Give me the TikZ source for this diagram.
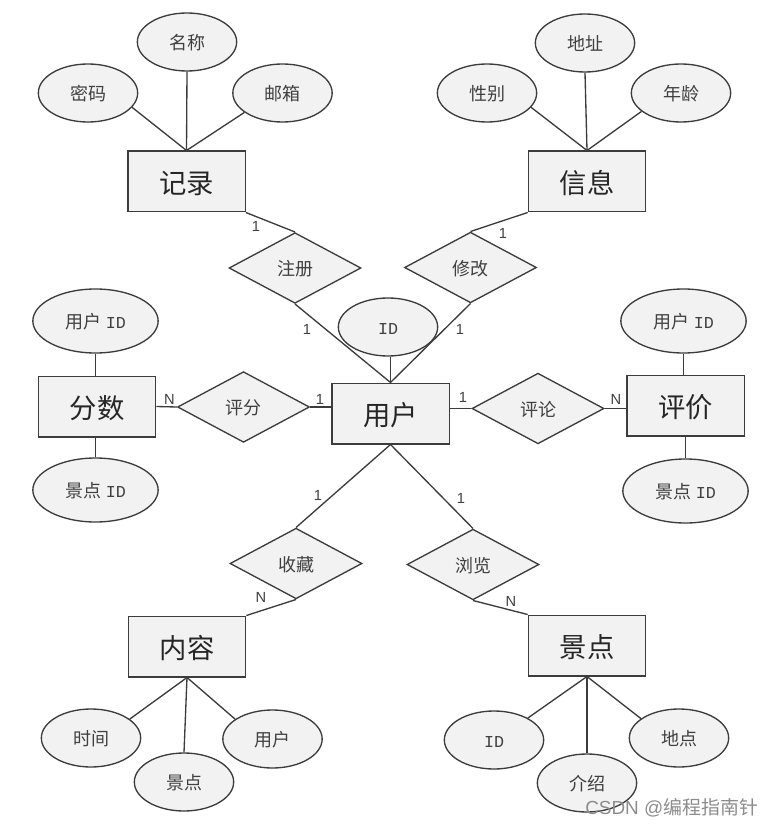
\documentclass[tikz,border=0pt]{standalone}
\usepackage{fontspec}
\setmainfont{Liberation Sans}
\newfontfamily\cjk{Noto Sans CJK SC}
\newfontfamily\idmono{Liberation Mono}
\usetikzlibrary{shapes.geometric}
\definecolor{erline}{HTML}{3C3C3C}
\definecolor{erfill}{HTML}{F2F2F2}
\definecolor{ertext}{HTML}{404040}
\tikzset{
  erbase/.style={draw=erline,fill=erfill,line width=1pt,inner sep=0pt,text=ertext},
  ent/.style={erbase,rectangle,minimum width=88pt,minimum height=45.5pt,text height=20pt,text depth=1.4pt,font=\cjk\fontsize{20.5}{22}\selectfont,text=black!85},
  attrs/.style={erbase,ellipse,minimum width=74.5pt,minimum height=43.5pt,text height=13pt,text depth=1.3pt,font=\cjk\fontsize{13.5}{15}\selectfont},
  attrw/.style={attrs,minimum width=94pt,minimum height=48pt},
  rel/.style={erbase,diamond,minimum width=99pt,minimum height=53pt,text height=13pt,text depth=1.3pt,font=\cjk\fontsize{13.5}{15}\selectfont},
  conn/.style={draw=erline,line width=1pt},
  card/.style={font=\fontsize{11}{12}\selectfont,text=ertext,inner sep=0pt},
}
\newcommand{\idt}{{\idmono\fontsize{12.5}{14}\selectfont ID}}
\begin{document}
\begin{tikzpicture}[x=0.75pt,y=-0.75pt]
\useasboundingbox (0,0) rectangle (772,827);
% entities
\node[ent] (jilu) at (186.5,181.5) {记录};
\node[ent] (xinxi) at (587,181.5) {信息};
\node[ent] (yonghu) at (390.5,413.5) {用户};
\node[ent] (fenshu) at (97,406.5) {分数};
\node[ent] (pingjia) at (685.5,405.5) {评价};
\node[ent] (neirong) at (187,646.5) {内容};
\node[ent] (jingdian) at (587,645.5) {景点};
% relationships
\node[rel] (zhuce) at (295,268) {注册};
\node[rel] (xiugai) at (470.5,267.5) {修改};
\node[rel] (pingfen) at (243.5,407) {评分};
\node[rel] (pinglun) at (538,408.5) {评论};
\node[rel] (shoucang) at (296,563.5) {收藏};
\node[rel] (liulan) at (473,564.5) {浏览};
% attributes
\node[attrs] (mima) at (88,93) {密码};
\node[attrs] (mingcheng) at (187,42) {名称};
\node[attrs] (youxiang) at (282.5,93) {邮箱};
\node[attrs] (xingbie) at (487,93) {性别};
\node[attrs] (dizhi) at (585,43) {地址};
\node[attrs] (nianling) at (681,93) {年龄};
\node[attrs] (uid) at (388,327) {\idt};
\node[attrw] (fuid) at (95.5,321) {用户\hspace{0.25em}\idt};
\node[attrw] (fsid) at (95.5,490) {景点\hspace{0.25em}\idt};
\node[attrw] (puid) at (683.5,321) {用户\hspace{0.25em}\idt};
\node[attrw] (psid) at (685.5,491) {景点\hspace{0.25em}\idt};
\node[attrs] (shijian) at (91,738) {时间};
\node[attrs] (njd) at (184,782) {景点};
\node[attrs] (nyh) at (272.5,739) {用户};
\node[attrs] (jid) at (494,740) {\idt};
\node[attrs] (jieshao) at (587,783) {介绍};
\node[attrs] (didian) at (679,738) {地点};
% connectors
\draw[conn] (jilu.north) -- (mima.-18);
\draw[conn] (jilu.north) -- (mingcheng.south);
\draw[conn] (jilu.north) -- (youxiang.207);
\draw[conn] (xinxi.north) -- (xingbie.-18);
\draw[conn] (xinxi.north) -- (dizhi.south);
\draw[conn] (xinxi.north) -- (nianling.205);
\draw[conn] (jilu.south east) -- (zhuce.north);
\draw[conn] (xinxi.south west) -- (xiugai.north);
\draw[conn] (zhuce.south) -- (yonghu.north);
\draw[conn] (xiugai.south) -- (yonghu.north);
\draw[conn] (yonghu.north |- uid.south) -- (yonghu.north);
\draw[conn] (fuid.south) -- (fuid.south |- fenshu.north);
\draw[conn] (fsid.north) -- (fsid.north |- fenshu.south);
\draw[conn] (puid.south) -- (puid.south |- pingjia.north);
\draw[conn] (psid.north) -- (psid.north |- pingjia.south);
\draw[conn] (fenshu.east) -- (pingfen.west);
\draw[conn] (pingfen.east) -- (pingfen.east -| yonghu.west);
\draw[conn] (yonghu.east |- pinglun.west) -- (pinglun.west);
\draw[conn] (pinglun.east) -- (pinglun.east -| pingjia.west);
\draw[conn] (yonghu.south) -- (shoucang.north);
\draw[conn] (yonghu.south) -- (liulan.north);
\draw[conn] (shoucang.south) -- (neirong.north east);
\draw[conn] (liulan.south) -- (jingdian.north west);
\draw[conn] (neirong.south) -- (shijian.26);
\draw[conn] (neirong.south) -- (njd.north);
\draw[conn] (neirong.south) -- (nyh.152);
\draw[conn] (jingdian.south) -- (jid.33);
\draw[conn] (jingdian.south) -- (jieshao.north);
\draw[conn] (jingdian.south) -- (didian.153);
% cardinalities
\node[card] (c1) at (256,226) {1};
\node[card] (c2) at (307,329) {1};
\node[card] (c3) at (503,233) {1};
\node[card] (c4) at (460,329) {1};
\node[card] (c5) at (169.5,399) {N};
\node[card] (c6) at (320,399) {1};
\node[card] (c7) at (463,397) {1};
\node[card] (c8) at (616,399) {N};
\node[card] (c9) at (318,495) {1};
\node[card] (c10) at (461,498) {1};
\node[card] (c11) at (261,597) {N};
\node[card] (c12) at (511,601) {N};
% watermark
\node[anchor=west,inner sep=0pt,text=black!45,font=\fontsize{14.2}{16}\selectfont] (wm) at (585,808) {CSDN @{\cjk 编程指南针}};
\end{tikzpicture}
\end{document}
